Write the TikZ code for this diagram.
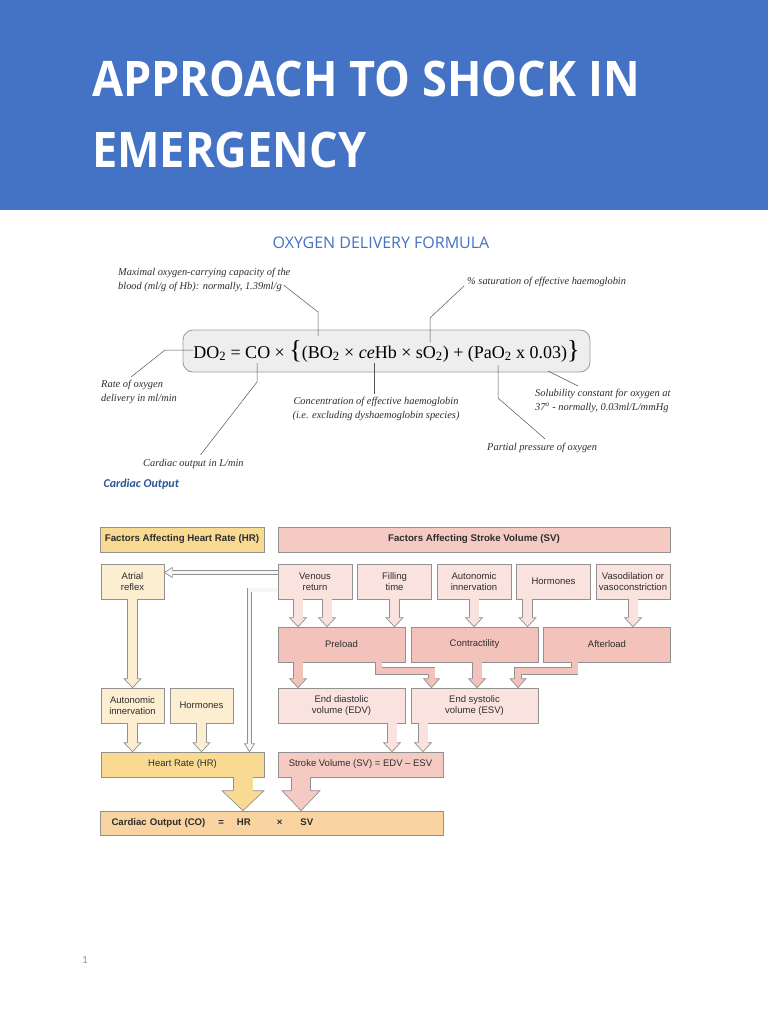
\documentclass[tikz,border=0pt]{standalone}
\usepackage{fontspec}
\setmainfont{Liberation Serif}
\setsansfont{Liberation Sans}
\newfontfamily\titlefont[FakeStretch=0.92]{Open Sans}
\newfontfamily\capsfont{Open Sans}
\newfontfamily\docfont{Carlito}
\usetikzlibrary{calc}
\definecolor{bannerblue}{RGB}{68,114,196}
\definecolor{headingblue}{RGB}{47,84,150}
\definecolor{pagenum}{RGB}{132,150,176}
\definecolor{formulafill}{RGB}{238,238,238}
\definecolor{formulaline}{RGB}{160,160,160}
\definecolor{leader}{RGB}{85,85,85}
\definecolor{notegray}{RGB}{45,45,45}
\definecolor{boxline}{RGB}{145,145,145}
\definecolor{charttext}{RGB}{45,45,45}
\definecolor{hrgold}{RGB}{248,218,146}
\definecolor{hrcream}{RGB}{252,238,208}
\definecolor{copeach}{RGB}{249,212,160}
\definecolor{svrose}{RGB}{245,202,195}
\definecolor{svpale}{RGB}{250,227,222}
\definecolor{svdeep}{RGB}{243,195,187}
\definecolor{thinfill}{RGB}{246,246,246}
\tikzset{
  titletext/.style={
    anchor=base west,
    inner sep=0pt,
    text=white,
    font=\titlefont\bfseries\fontsize{49}{49}\selectfont
  },
  formulabox/.style={
    draw=formulaline,
    fill=formulafill,
    line width=0.9pt,
    rounded corners=10pt,
    minimum width=407pt,
    minimum height=42pt,
    inner sep=0pt,
    font=\fontsize{18}{18}\selectfont
  },
  notetext/.style={
    inner sep=0pt,
    align=left,
    text=notegray,
    font=\itshape\fontsize{10.4}{14}\selectfont
  },
  leaderline/.style={
    draw=leader,
    line width=0.5pt
  },
  chartbox/.style={
    draw=boxline,
    line width=0.7pt,
    inner sep=1pt,
    align=center,
    text=charttext,
    font=\sffamily\fontsize{9.5}{11}\selectfont
  },
  headbox/.style={
    chartbox,
    minimum height=25pt,
    font=\sffamily\bfseries\fontsize{9.7}{11}\selectfont
  },
  svfactor/.style={
    chartbox,
    fill=svpale,
    minimum width=74pt,
    minimum height=35pt
  },
  hrfactor/.style={
    chartbox,
    fill=hrcream,
    minimum width=63pt,
    minimum height=35pt
  },
  svstage/.style={
    chartbox,
    minimum width=127pt,
    minimum height=35pt
  },
  shaft/.style 2 args={
    draw=boxline,
    line width=0.7pt,
    double=#1,
    double distance=#2
  }
}
% arrow heads of the hollow flow arrows: colour, tip, shaft half width,
% head half width, head length
\newcommand{\headdown}[5]{%
  \path[fill=#1,draw=boxline,line width=0.7pt] let \p1=(#2) in
    (\x1-#3pt,\y1+#5pt) -- (\x1-#4pt,\y1+#5pt) -- (\x1,\y1)
    -- (\x1+#4pt,\y1+#5pt) -- (\x1+#3pt,\y1+#5pt);}
\newcommand{\headleft}[5]{%
  \path[fill=#1,draw=boxline,line width=0.7pt] let \p1=(#2) in
    (\x1+#5pt,\y1+#3pt) -- (\x1+#5pt,\y1+#4pt) -- (\x1,\y1)
    -- (\x1+#5pt,\y1-#4pt) -- (\x1+#5pt,\y1-#3pt);}
% straight hollow arrow from a point down to the box below
\newcommand{\flowdown}[3]{%
  \draw[shaft={#1}{9pt}] (#2) -- ($(#2 |- #3)+(0,-8)$);
  \headdown{#1}{#2 |- #3}{4.85}{8.5}{9}}

\begin{document}
\begin{tikzpicture}[x=1pt,y=-1pt]

  \useasboundingbox (0,0) rectangle (768,1024);
  \fill[white] (0,0) rectangle (768,1024);

  % Title banner across the top of the page.
  \fill[bannerblue] (0,0) rectangle (768,210);
  \node[titletext] (title1) at (92,97) {APPROACH TO SHOCK IN};
  \node[titletext] (title2) at (92,168) {EMERGENCY};

  \node[text=bannerblue,font=\capsfont\fontsize{16}{16}\selectfont]
    (subtitle) at (381,243) {OXYGEN DELIVERY FORMULA};

  % Oxygen delivery formula in its rounded grey box.
  \node[formulabox] (formula) at (386.5,351)
    {DO\textsubscript{2} = CO × {\fontsize{26}{26}\selectfont\{}(BO\textsubscript{2}
     × \textit{ce}Hb × sO\textsubscript{2}) + (PaO\textsubscript{2} x 0.03){\fontsize{26}{26}\selectfont\}}};

  % Attachment points of the leader lines on the formula terms.
  \coordinate (doleft) at (193,350);
  \coordinate (cotail) at (257,363);
  \coordinate (botail) at (318,336);
  \coordinate (cetail) at (374,363);
  \coordinate (sotail) at (430,342);
  \coordinate (patail) at (498,365);
  \coordinate (sltail) at (548,371);

  % Explanatory notes round the formula.
  \node[notetext,anchor=north west] (maxcap) at (118,268)
    {Maximal oxygen-carrying capacity of the\\blood (ml/g of Hb): normally, 1.39ml/g};
  \node[notetext,anchor=north west] (satnote) at (467,277)
    {\% saturation of effective haemoglobin};
  \node[notetext,anchor=north west] (ratenote) at (101,380)
    {Rate of oxygen\\delivery in ml/min};
  \node[notetext,anchor=north west] (cardnote) at (143,459)
    {Cardiac output in L/min};
  \node[notetext,anchor=north,align=center] (concnote) at (376,397)
    {Concentration of effective haemoglobin\\(i.e. excluding dyshaemoglobin species)};
  \node[notetext,anchor=north west] (partnote) at (487,443)
    {Partial pressure of oxygen};
  \node[notetext,anchor=north west] (solnote) at (535,389)
    {Solubility constant for oxygen at\\37\textsuperscript{o} - normally, 0.03ml/L/mmHg};

  \draw[leaderline] (botail) -- ++(0,-24) -- ($(maxcap.east)+(-7,5)$);
  \draw[leaderline] (sotail) -- ++(0,-24) -- ($(satnote.west)+(-3,4)$);
  \draw[leaderline] (doleft) -- ++(-28,0) -- ($(ratenote.north)+(-8,-3)$);
  \draw[leaderline] (cotail) -- ++(0,19) -- ($(cardnote.north)+(7,-4)$);
  \draw[leaderline] (cetail) -- ($(cetail |- concnote.north)+(0,-3)$);
  \draw[leaderline] (patail) -- ++(0,33) -- ($(partnote.north)+(3,-4)$);
  \draw[leaderline] (sltail) -- ($(solnote.north west)+(43,-3)$);

  \node[anchor=base west,text=headingblue,font=\docfont\bfseries\itshape\fontsize{12}{12}\selectfont]
    (cohead) at (100,487) {Cardiac Output};

  % Flow chart: factors affecting heart rate (left) and stroke volume (right).
  \node[headbox,fill=hrgold,minimum width=164pt] (hrhead) at (182,539.5)
    {Factors Affecting Heart Rate (HR)};
  \node[headbox,fill=svrose,minimum width=392pt] (svhead) at (474,539.5)
    {Factors Affecting Stroke Volume (SV)};

  \node[hrfactor] (atrial) at (132.5,581.5) {Atrial\\reflex};
  \node[svfactor] (venous) at (315,581.5) {Venous\\return};
  \node[svfactor] (filling) at (394.5,581.5) {Filling\\time};
  \node[svfactor] (autosv) at (474,581.5) {Autonomic\\innervation};
  \node[svfactor] (hormsv) at (553.5,581.5) {Hormones};
  \node[svfactor] (vaso) at (633,581.5) {Vasodilation or\\vasoconstriction};

  \node[svstage,fill=svdeep] (preload) at (341.5,644.5) {Preload};
  \node[svstage,fill=svdeep] (contract) at (474.5,644.5) {Contractility};
  \node[svstage,fill=svdeep] (afterload) at (607,644.5) {Afterload};

  \node[hrfactor] (autohr) at (132.5,705.5) {Autonomic\\innervation};
  \node[hrfactor] (hormhr) at (201.5,705.5) {Hormones};
  \node[svstage,fill=svpale] (edv) at (341.5,705.5) {End diastolic\\volume (EDV)};
  \node[svstage,fill=svpale] (esv) at (474.5,705.5) {End systolic\\volume (ESV)};

  \node[chartbox,fill=hrgold,minimum width=163pt,minimum height=25pt] (hr)
    at (182.5,764.5) {Heart Rate (HR)};
  \node[chartbox,fill=svrose,minimum width=165pt,minimum height=25pt] (sv)
    at (360.5,764.5) {Stroke Volume (SV) = EDV -- ESV};

  \node[chartbox,fill=copeach,minimum width=343pt,minimum height=24pt,
    text width=320pt,align=left,font=\sffamily\bfseries\fontsize{9.6}{11}\selectfont] (co)
    at (271.5,823) {Cardiac Output (CO)\hspace{13pt}=\hspace{13pt}HR\hspace{26pt}×\hspace{18pt}SV};

  % Stroke volume side.
  \coordinate (vr1) at ($(venous.south)+(-17,0)$);
  \coordinate (vr2) at ($(venous.south)+(12,0)$);
  \coordinate (hs1) at ($(hormsv.south)+(-26,0)$);
  \coordinate (pl1) at ($(preload.south)+(-43.5,0)$);
  \coordinate (ct1) at ($(contract.south)+(2.5,0)$);
  \coordinate (ed1) at ($(edv.south)+(50.5,0)$);
  \coordinate (es1) at ($(esv.south)+(-51.5,0)$);
  \flowdown{svpale}{vr1}{preload.north}
  \flowdown{svpale}{vr2}{preload.north}
  \flowdown{svpale}{filling.south}{preload.north}
  \flowdown{svpale}{autosv.south}{contract.north}
  \flowdown{svpale}{hs1}{contract.north}
  \flowdown{svpale}{vaso.south}{afterload.north}
  \flowdown{svdeep}{pl1}{edv.north}
  \flowdown{svdeep}{ct1}{esv.north}
  \flowdown{svpale}{ed1}{sv.north}
  \flowdown{svpale}{es1}{sv.north}

  % Preload and afterload both bend into the end systolic volume.
  \coordinate (pl2) at ($(preload.south)+(37,0)$);
  \coordinate (es2) at ($(esv.north)+(-43,0)$);
  \draw[shaft={svdeep}{6pt}] (pl2) -- ++(0,8.5) -| ($(es2)+(0,-8)$);
  \headdown{svdeep}{es2}{3.35}{8}{9}
  \coordinate (af1) at ($(afterload.south)+(-32.5,0)$);
  \coordinate (es3) at ($(esv.north)+(43.5,0)$);
  \draw[shaft={svdeep}{6pt}] (af1) -- ++(0,8.5) -| ($(es3)+(0,-8)$);
  \headdown{svdeep}{es3}{3.35}{8}{9}

  % Heart rate side.
  \flowdown{hrcream}{atrial.south}{autohr.north}
  \flowdown{hrcream}{autohr.south}{hr.north}
  \flowdown{hrcream}{hormhr.south}{hr.north}

  % Venous return also acts on the heart rate.
  \coordinate (vr3) at ($(venous.west)+(0,-9)$);
  \draw[shaft={thinfill}{3.5pt}] (vr3) -- ($(vr3 -| atrial.east)+(7,0)$);
  \headleft{thinfill}{vr3 -| atrial.east}{2.1}{5}{8}
  \coordinate (vr4) at ($(venous.west)+(0,8.5)$);
  \coordinate (hr1) at ($(hr.north)+(67,0)$);
  \draw[shaft={thinfill}{3.5pt}] (vr4) -| ($(hr1)+(0,-7)$);
  \headdown{thinfill}{hr1}{2.1}{5}{8}

  % Heart rate and stroke volume give the cardiac output.
  \coordinate (hr2) at ($(hr.south)+(60.5,0)$);
  \draw[shaft={hrgold}{19pt}] (hr2) -- ($(hr2 |- co.north)+(0,-19)$);
  \headdown{hrgold}{hr2 |- co.north}{9.85}{21}{20}
  \coordinate (sv2) at ($(sv.south)+(-59.5,0)$);
  \draw[shaft={svrose}{18pt}] (sv2) -- ($(sv2 |- co.north)+(0,-19)$);
  \headdown{svrose}{sv2 |- co.north}{9.35}{19}{20}

  \node[text=pagenum,font=\docfont\fontsize{11}{11}\selectfont] (pageno) at (85,960) {1};

\end{tikzpicture}
\end{document}
